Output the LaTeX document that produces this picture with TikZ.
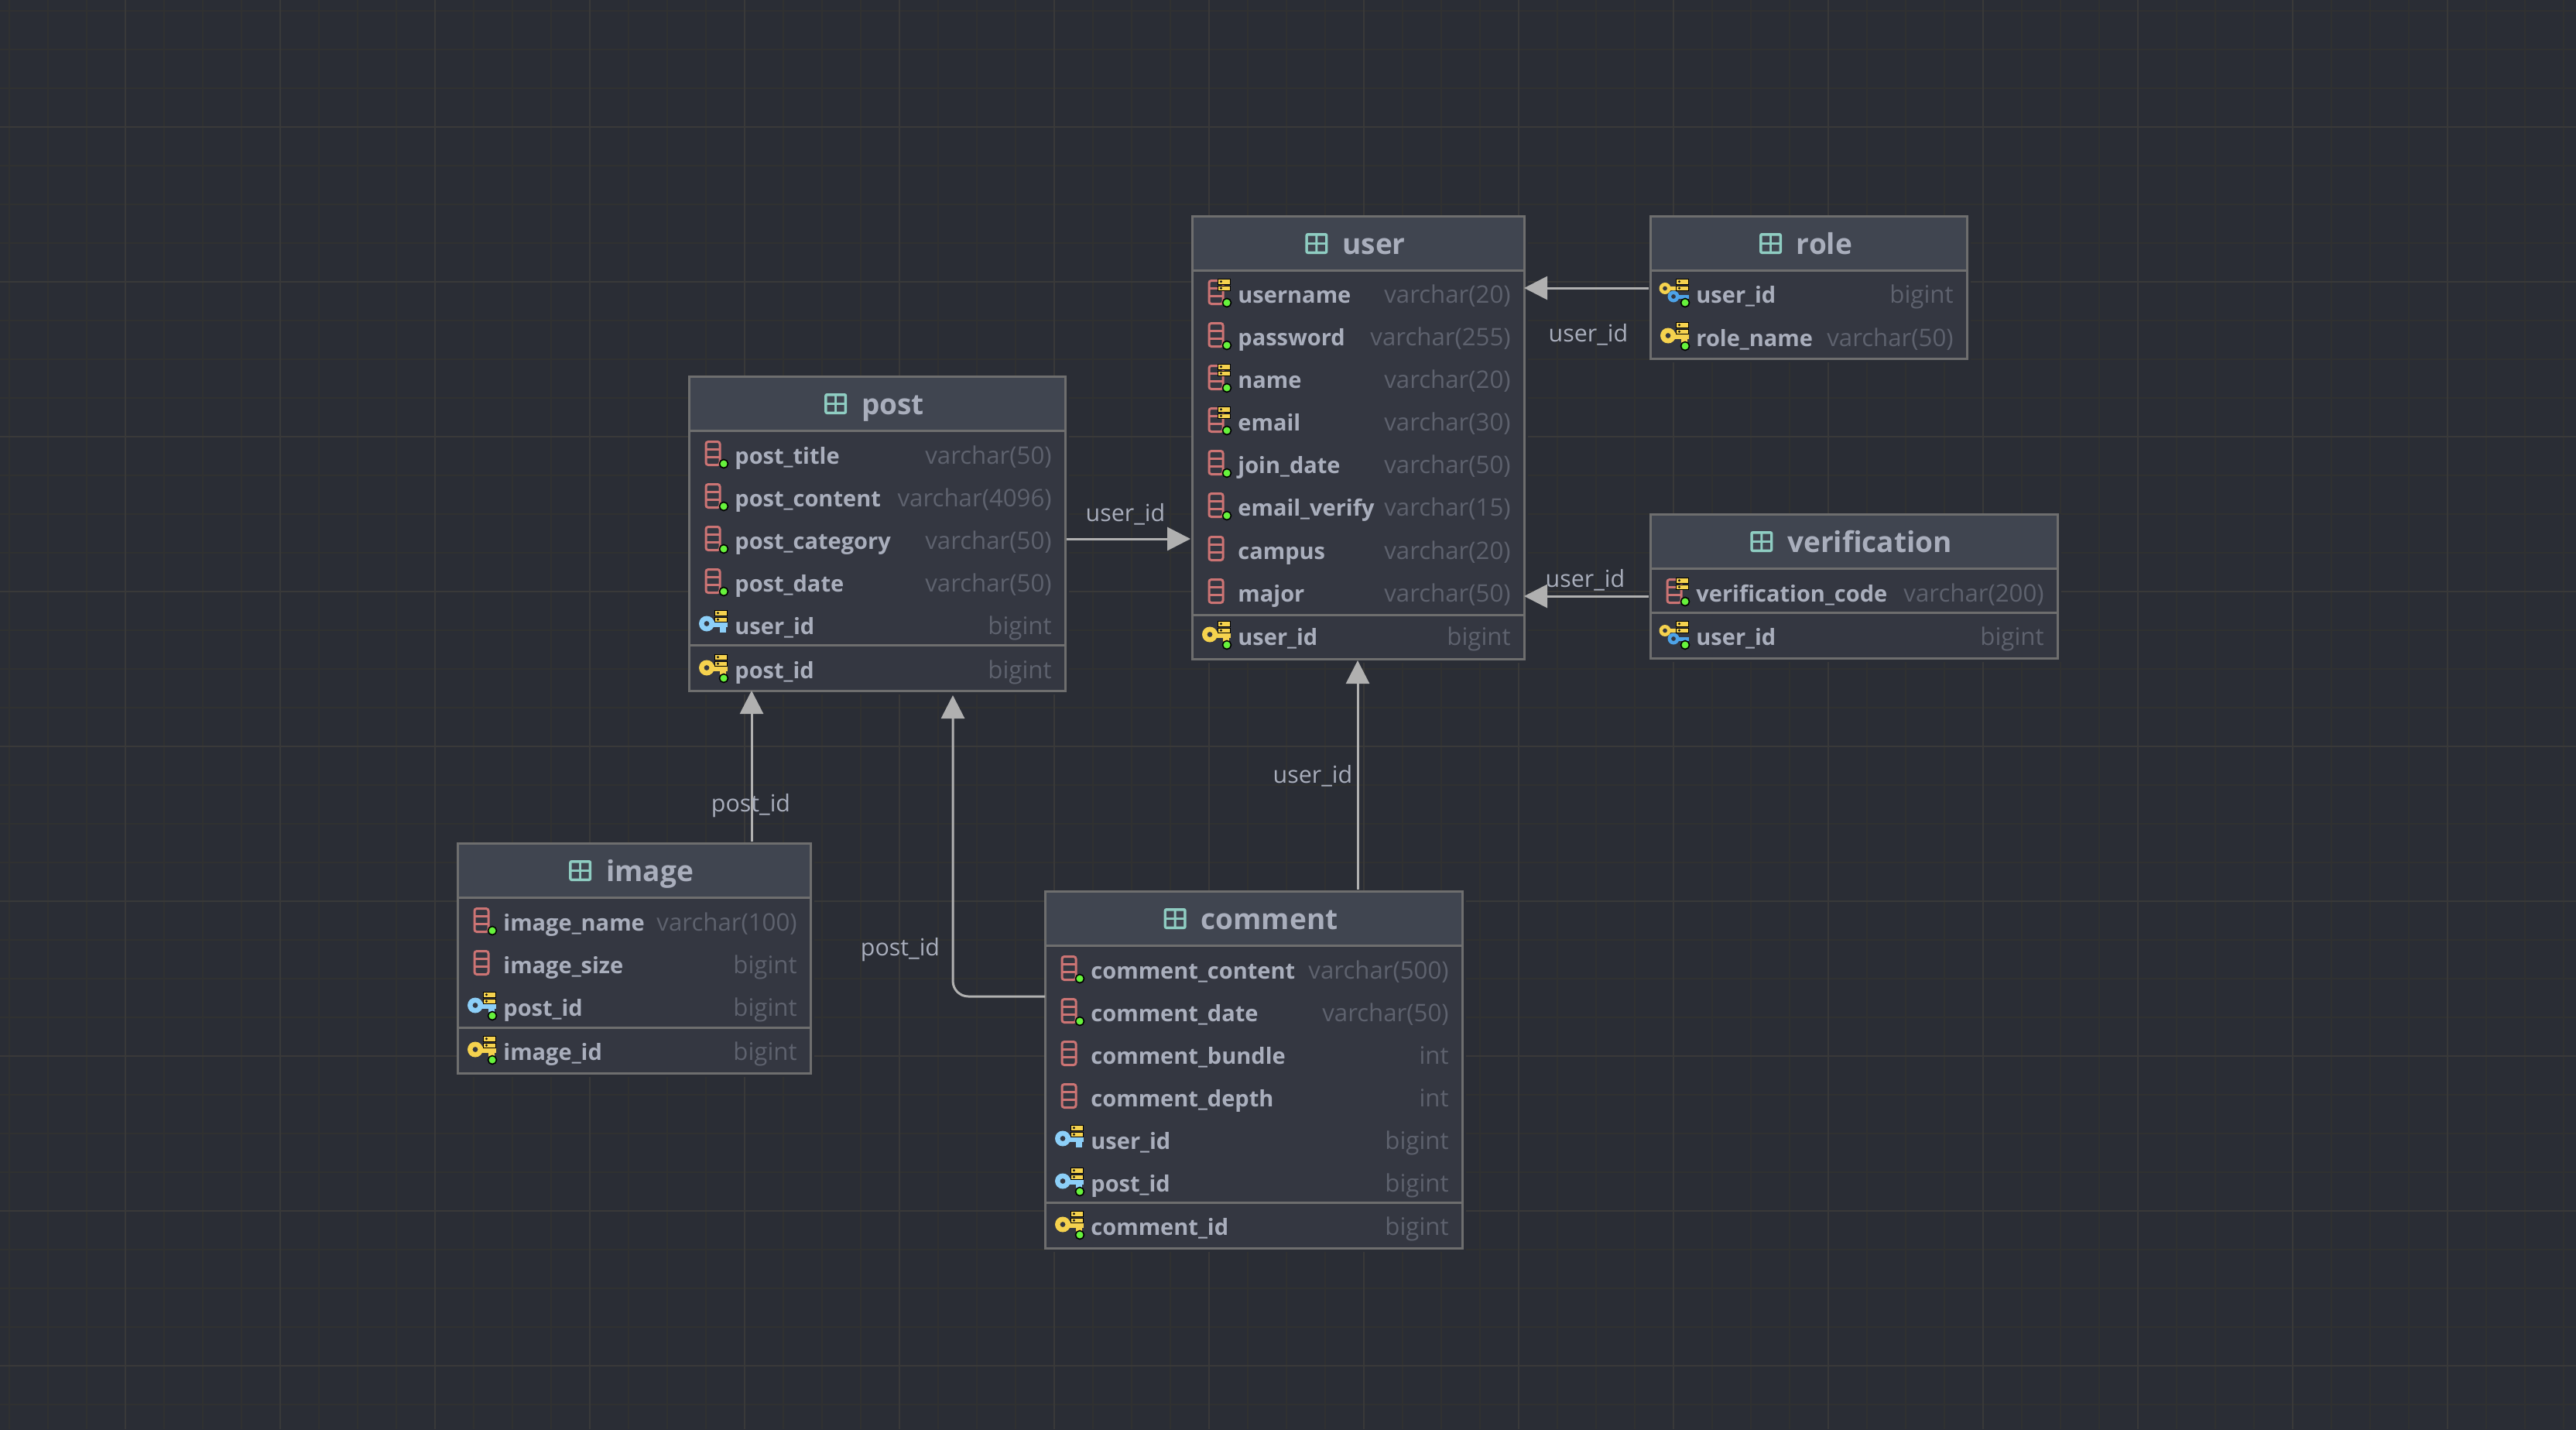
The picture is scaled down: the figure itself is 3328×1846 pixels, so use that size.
\documentclass[tikz,border=0pt]{standalone}
\usepackage{fontspec}
\setmainfont{Open Sans}
\usetikzlibrary{arrows.meta,calc}
\definecolor{bgc}{HTML}{2A2D35}
\definecolor{gridmin}{HTML}{303131}
\definecolor{gridmaj}{HTML}{393939}
\definecolor{bodyc}{HTML}{343741}
\definecolor{headc}{HTML}{404550}
\definecolor{borderc}{HTML}{6E6E6E}
\definecolor{namec}{HTML}{A9AEBC}
\definecolor{typec}{HTML}{5E626E}
\definecolor{linec}{HTML}{B0B0B0}
\definecolor{tealc}{HTML}{8FCDC2}
\definecolor{redc}{HTML}{CC7474}
\definecolor{yelc}{HTML}{F5D24E}
\definecolor{lbluec}{HTML}{8CCFF8}
\definecolor{bluec}{HTML}{4DA3E8}
\definecolor{greenc}{HTML}{66F23C}
\newcounter{rowno}
\tikzset{
  x=0.5pt,y=-0.5pt,
  tablebox/.style={draw=borderc,line width=1.5pt,fill=bodyc,inner sep=0pt,outer sep=0pt,rectangle,anchor=north west},
  titletext/.style={text=namec,font=\fontsize{18.5}{20}\selectfont\bfseries,anchor=base,inner sep=0pt},
  nametext/.style={text=namec,font=\fontsize{14.5}{16}\selectfont\bfseries,anchor=base west,inner sep=0pt},
  typetext/.style={text=typec,font=\fontsize{15.6}{16}\selectfont,anchor=base east,inner sep=0pt},
  edgetext/.style={text=namec,font=\fontsize{15.2}{16}\selectfont,anchor=base,inner sep=0pt},
  rel/.style={draw=linec,line width=1.5pt,-{Triangle[length=15pt,width=15pt]}},
  sepline/.style={draw=borderc,line width=1.5pt},
  redcol/.pic={
    \draw[redc,line width=1.5pt,rounded corners=1.5pt] (-9,-15) rectangle (9,15);
    \draw[redc,line width=1.5pt] (-9,-5) -- (9,-5) (-9,5) -- (9,5);
  },
  gdot/.pic={\fill[greenc,draw=black,line width=0.8pt] (0,0) circle (5.5);},
  badges/.pic={
    \foreach \yy in {0,8.5}{
      \fill[yelc,draw=black,line width=0.5pt] (0,\yy) rectangle (15.5,\yy+6.5);
      \fill[black!70!bodyc] (4,\yy+3.25) circle (1.7);
    }
  },
  keyshape/.pic={
    \fill[even odd rule,pic actions] (0,0) circle (10) (0,0) circle (3.5);
    \fill[pic actions] (9,-3.5) rectangle (27,4);
    \fill[pic actions] (17,0) rectangle (25,11);
  },
  smallkey/.pic={
    \fill[even odd rule,pic actions] (0,0) circle (7.5) (0,0) circle (3);
    \fill[pic actions] (6,-2.5) rectangle (20,2.5);
  },
}
% icons, x is the table's left edge, y the row centre
\newcommand{\IcoCol}[2]{\path (#1+31,#2-2.5) pic {redcol};}
\newcommand{\IcoDot}[2]{\path (#1+45,#2+11) pic {gdot};}
\newcommand{\IcoBad}[2]{\path (#1+33.5,#2-19.5) pic {badges};}
\newcommand{\IcoFk}[2]{\path (#1+23,#2-2.5) pic[fill=lbluec] {keyshape};}
\newcommand{\IcoPk}[2]{\path (#1+23,#2-2.5) pic[fill=yelc] {keyshape};}
\newcommand{\IcoBoth}[2]{\path (#1+19,#2-7.5) pic[fill=yelc] {smallkey}; \path (#1+30,#2+3) pic[fill=bluec] {smallkey};}
\newcommand{\Row}[6]{% left, right, y, icons, name, type
  \stepcounter{rowno}%
  \node[nametext] (nm\therowno) at (#1+59,#3+11) {#5};
  \node[typetext] (ty\therowno) at (#2-17,#3+11) {#6};
  \def\LX{#1}\def\RY{#3}#4
}
\newcommand{\Tbl}[6]{% name, left, top, right, bottom, title
  \fill[bgc] (#2,#3) rectangle (#4+5,#5+5);
  \node[tablebox,minimum width={(#4-#2)*0.5pt},minimum height={(#5-#3)*0.5pt}] (#1) at (#2,#3) {};
  \fill[headc] (#2+1,#3+1) rectangle (#4-1,#3+70);
  \draw[sepline] (#2,#3+70) -- (#4,#3+70);
  \draw[borderc,line width=1.5pt] (#2,#3) rectangle (#4,#5);
  \node[titletext] (#1t) at ({(#2+#4)/2+20.5},#3+49.5) {#6};
  \coordinate (#1i) at ($(#1t.base west)+(-33,-14)$);
  \path (#1i) pic {tblicon};
}
\tikzset{tblicon/.pic={
  \fill[tealc,rounded corners=1.5pt] (-14.5,-13.5) rectangle (14.5,13.5);
  \fill[headc] (-11,-10) rectangle (-1.5,-1.5) (1.5,-10) rectangle (11,-1.5) (-11,1.5) rectangle (-1.5,10) (1.5,1.5) rectangle (11,10);
}}
\newcommand{\C}{\IcoCol{\LX}{\RY}}
\newcommand{\CD}{\IcoCol{\LX}{\RY}\IcoDot{\LX}{\RY}}
\newcommand{\CBD}{\IcoCol{\LX}{\RY}\IcoBad{\LX}{\RY}\IcoDot{\LX}{\RY}}
\newcommand{\FB}{\IcoFk{\LX}{\RY}\IcoBad{\LX}{\RY}}
\newcommand{\FBD}{\IcoFk{\LX}{\RY}\IcoBad{\LX}{\RY}\IcoDot{\LX}{\RY}}
\newcommand{\PBD}{\IcoPk{\LX}{\RY}\IcoBad{\LX}{\RY}\IcoDot{\LX}{\RY}}
\newcommand{\BBD}{\IcoBoth{\LX}{\RY}\IcoBad{\LX}{\RY}\IcoDot{\LX}{\RY}}
\begin{document}
\begin{tikzpicture}
\useasboundingbox (0,0) rectangle (3328,1846);
\fill[bgc] (-2,-2) rectangle (3330,1848);
% grid
\foreach \k in {0,...,66}{
  \draw[gridmin,line width=1pt] ({12+50*\k},0) -- ({12+50*\k},1846);
}
\foreach \k in {0,...,36}{
  \draw[gridmin,line width=1pt] (0,{14+50*\k}) -- (3328,{14+50*\k});
}
\foreach \k in {0,...,15}{
  \draw[gridmaj,line width=1pt] ({162+200*\k},0) -- ({162+200*\k},1846);
}
\foreach \k in {0,...,8}{
  \draw[gridmaj,line width=1pt] (0,{164+200*\k}) -- (3328,{164+200*\k});
}
% tables
\Tbl{user}{1540}{279}{1969}{851}{user}
\Row{1540}{1969}{380}{\CBD}{username}{varchar(20)}
\Row{1540}{1969}{435}{\CD}{password}{varchar(255)}
\Row{1540}{1969}{490}{\CBD}{name}{varchar(20)}
\Row{1540}{1969}{545}{\CBD}{email}{varchar(30)}
\Row{1540}{1969}{600}{\CD}{join\_date}{varchar(50)}
\Row{1540}{1969}{655}{\CD}{email\_verify}{varchar(15)}
\Row{1540}{1969}{711}{\C}{campus}{varchar(20)}
\Row{1540}{1969}{766}{\C}{major}{varchar(50)}
\draw[sepline] (1540,794) -- (1969,794);
\Row{1540}{1969}{822}{\PBD}{user\_id}{bigint}

\Tbl{role}{2132}{279}{2541}{463}{role}
\Row{2132}{2541}{380}{\BBD}{user\_id}{bigint}
\Row{2132}{2541}{436}{\PBD}{role\_name}{varchar(50)}

\Tbl{verification}{2132}{664}{2658}{850}{verification}
\Row{2132}{2658}{766}{\CBD}{verification\_code}{varchar(200)}
\draw[sepline] (2132,791) -- (2658,791);
\Row{2132}{2658}{822}{\BBD}{user\_id}{bigint}

\Tbl{post}{890}{486}{1376}{892}{post}
\Row{890}{1376}{588}{\CD}{post\_title}{varchar(50)}
\Row{890}{1376}{643}{\CD}{post\_content}{varchar(4096)}
\Row{890}{1376}{698}{\CD}{post\_category}{varchar(50)}
\Row{890}{1376}{753}{\CD}{post\_date}{varchar(50)}
\Row{890}{1376}{808}{\FB}{user\_id}{bigint}
\draw[sepline] (890,833) -- (1376,833);
\Row{890}{1376}{865}{\PBD}{post\_id}{bigint}

\Tbl{image}{591}{1089}{1047}{1386}{image}
\Row{591}{1047}{1191}{\CD}{image\_name}{varchar(100)}
\Row{591}{1047}{1246}{\C}{image\_size}{bigint}
\Row{591}{1047}{1301}{\FBD}{post\_id}{bigint}
\draw[sepline] (591,1327) -- (1047,1327);
\Row{591}{1047}{1358}{\PBD}{image\_id}{bigint}

\Tbl{comment}{1350}{1151}{1889}{1612}{comment}
\Row{1350}{1889}{1253}{\CD}{comment\_content}{varchar(500)}
\Row{1350}{1889}{1308}{\CD}{comment\_date}{varchar(50)}
\Row{1350}{1889}{1363}{\C}{comment\_bundle}{int}
\Row{1350}{1889}{1418}{\C}{comment\_depth}{int}
\Row{1350}{1889}{1473}{\FB}{user\_id}{bigint}
\Row{1350}{1889}{1528}{\FBD}{post\_id}{bigint}
\draw[sepline] (1350,1553) -- (1889,1553);
\Row{1350}{1889}{1584}{\PBD}{comment\_id}{bigint}

% connectors
\draw[rel,shorten <=1pt] (role.west |- 0,372) -- (user.east |- 0,372);
\draw[rel,shorten <=1pt] (verification.west |- 0,770) -- (user.east |- 0,770);
\draw[rel,shorten <=1pt,shorten >=1pt] (post.east |- 0,696) -- (user.west |- 0,696);
\draw[rel,shorten <=1pt,shorten >=1pt] (comment.north -| 1754,0) -- (user.south -| 1754,0);
\draw[rel,shorten <=1pt] (image.north -| 971,0) -- (post.south -| 971,0);
\draw[rel,rounded corners=10pt,shorten >=3pt] (comment.west |- 0,1287) -| (post.south -| 1231,0);
% edge labels
\node[edgetext] (l1) at (2052,441) {user\_id};
\node[edgetext] (l2) at (2048,758) {user\_id};
\node[edgetext] (l3) at (1454,673) {user\_id};
\node[edgetext] (l4) at (1696,1011) {user\_id};
\node[edgetext] (l5) at (970,1048) {post\_id};
\node[edgetext] (l6) at (1163,1234) {post\_id};
\end{tikzpicture}
\end{document}
